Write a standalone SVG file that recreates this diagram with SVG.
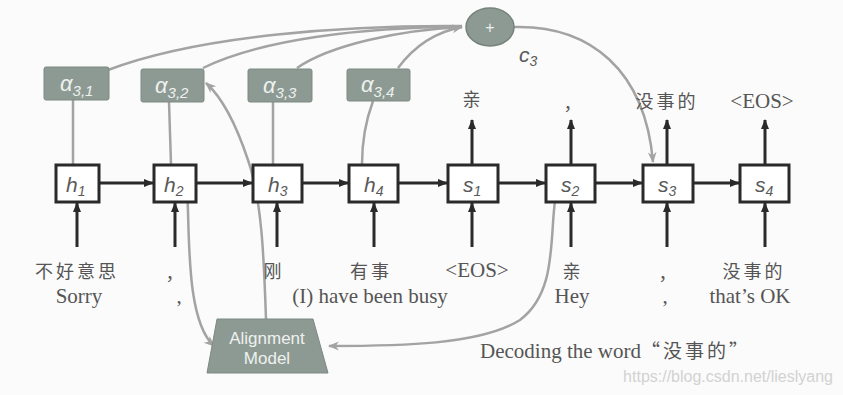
<svg xmlns="http://www.w3.org/2000/svg" width="843" height="395" viewBox="0 0 843 395">
<style>
.bx{fill:#fff;stroke:#2a2a2a;stroke-width:3}
.bl{font-family:"Liberation Sans",Arial,sans-serif;font-style:italic;font-size:21px;fill:#5a5a5a}
.al{fill:#8d9a93;stroke:#7d8a83;stroke-width:1}
.at{font-family:"Liberation Sans",Arial,sans-serif;font-style:italic;font-size:22px;fill:#eef1ef}
.k{stroke:#2a2a2a;stroke-width:3;fill:none}
.g{stroke:#a3a3a3;stroke-width:2.5;fill:none}
.cn{font-family:"Liberation Serif","Noto Sans CJK SC",serif;font-size:18px;fill:#555;letter-spacing:3px}
.en{font-family:"Liberation Serif","Noto Sans CJK SC",serif;font-size:21px;fill:#555}
.am{font-family:"Liberation Sans",Arial,sans-serif;font-size:17px;fill:#eef1ef}
</style>
<defs>
<marker id="ab" viewBox="0 0 10 10" refX="9" refY="5" markerWidth="10" markerHeight="10" orient="auto" markerUnits="userSpaceOnUse"><path d="M0,1 L10,5 L0,9 z" fill="#2a2a2a"/></marker>
<marker id="ag" viewBox="0 0 10 10" refX="9" refY="5" markerWidth="11" markerHeight="11" orient="auto" markerUnits="userSpaceOnUse"><path d="M0,1 L10,5 L0,9 L3,5 z" fill="#a3a3a3"/></marker>
</defs>
<rect width="843" height="395" fill="#fbfbfb"/>

<g id="connectors">
<line class="k" x1="99" y1="183" x2="153" y2="183" marker-end="url(#ab)"/>
<line class="k" x1="196" y1="183" x2="252" y2="183" marker-end="url(#ab)"/>
<line class="k" x1="302" y1="183" x2="348" y2="183" marker-end="url(#ab)"/>
<line class="k" x1="398" y1="183" x2="447" y2="183" marker-end="url(#ab)"/>
<line class="k" x1="498" y1="183" x2="545" y2="183" marker-end="url(#ab)"/>
<line class="k" x1="595" y1="183" x2="642" y2="183" marker-end="url(#ab)"/>
<line class="k" x1="693" y1="183" x2="739" y2="183" marker-end="url(#ab)"/>
<line class="k" x1="77" y1="247" x2="77" y2="203" marker-end="url(#ab)"/>
<line class="k" x1="175" y1="247" x2="175" y2="203" marker-end="url(#ab)"/>
<line class="k" x1="277" y1="247" x2="277" y2="203" marker-end="url(#ab)"/>
<line class="k" x1="374" y1="247" x2="374" y2="203" marker-end="url(#ab)"/>
<line class="k" x1="472" y1="247" x2="472" y2="203" marker-end="url(#ab)"/>
<line class="k" x1="571" y1="247" x2="571" y2="203" marker-end="url(#ab)"/>
<line class="k" x1="667" y1="247" x2="667" y2="203" marker-end="url(#ab)"/>
<line class="k" x1="765" y1="247" x2="765" y2="203" marker-end="url(#ab)"/>
<line class="k" x1="472" y1="164" x2="472" y2="120" marker-end="url(#ab)"/>
<line class="k" x1="571" y1="164" x2="571" y2="120" marker-end="url(#ab)"/>
<line class="k" x1="667" y1="164" x2="667" y2="120" marker-end="url(#ab)"/>
<line class="k" x1="765" y1="164" x2="765" y2="120" marker-end="url(#ab)"/>
<line class="g" x1="73" y1="100" x2="73" y2="164"/>
<line class="g" x1="169" y1="102" x2="171" y2="164"/>
<line class="g" x1="273" y1="102" x2="273" y2="164"/>
<path class="g" d="M373,101 C366,120 362,140 362,164"/>
<path class="g" d="M108,70 C200,35 350,25 462,26"/>
<path class="g" d="M203,68 C260,40 360,27 462,27"/>
<path class="g" d="M297,68 C330,45 400,30 462,27"/>
<path class="g" d="M398,68 C415,45 435,32 462,27" marker-end="url(#ag)"/>
<path class="g" d="M514,27 C590,25 645,70 653,162" marker-end="url(#ag)"/>
<path class="g" d="M187,188 C190,230 185,320 214,346" marker-end="url(#ag)"/>
<path class="g" d="M557,188 C548,230 560,290 520,320 C480,345 400,346 329,346" marker-end="url(#ag)"/>
<path class="g" d="M266,319 C264,260 262,200 248,160 C238,130 225,100 206,83" marker-end="url(#ag)"/>
</g>

<g id="h1"><rect class="bx" x="56" y="165" width="43" height="37"/><text class="bl" x="66" y="192">h<tspan font-size="14" dy="4">1</tspan></text></g>
<g id="h2"><rect class="bx" x="154" y="165" width="42" height="37"/><text class="bl" x="164" y="192">h<tspan font-size="14" dy="4">2</tspan></text></g>
<g id="h3"><rect class="bx" x="253" y="165" width="49" height="37"/><text class="bl" x="268" y="192">h<tspan font-size="14" dy="4">3</tspan></text></g>
<g id="h4"><rect class="bx" x="349" y="165" width="49" height="37"/><text class="bl" x="364" y="192">h<tspan font-size="14" dy="4">4</tspan></text></g>
<g id="s1"><rect class="bx" x="448" y="165" width="50" height="37"/><text class="bl" x="463" y="192">s<tspan font-size="14" dy="4">1</tspan></text></g>
<g id="s2"><rect class="bx" x="546" y="165" width="49" height="37"/><text class="bl" x="561" y="192">s<tspan font-size="14" dy="4">2</tspan></text></g>
<g id="s3"><rect class="bx" x="643" y="165" width="50" height="37"/><text class="bl" x="658" y="192">s<tspan font-size="14" dy="4">3</tspan></text></g>
<g id="s4"><rect class="bx" x="740" y="165" width="49" height="37"/><text class="bl" x="755" y="192">s<tspan font-size="14" dy="4">4</tspan></text></g>

<g id="a31"><rect class="al" x="44" y="67" width="65" height="33" rx="2"/><text class="at" x="60" y="91">α<tspan font-size="15" dy="5">3,1</tspan></text></g>
<g id="a32"><rect class="al" x="141" y="69" width="63" height="33" rx="2"/><text class="at" x="155" y="93">α<tspan font-size="15" dy="5">3,2</tspan></text></g>
<g id="a33"><rect class="al" x="248" y="69" width="64" height="33" rx="2"/><text class="at" x="263" y="93">α<tspan font-size="15" dy="5">3,3</tspan></text></g>
<g id="a34"><rect class="al" x="347" y="69" width="63" height="32" rx="2"/><text class="at" x="361" y="92">α<tspan font-size="15" dy="5">3,4</tspan></text></g>

<g id="sum"><ellipse cx="490" cy="27" rx="24" ry="19" fill="#8d9a93" stroke="#75837b" stroke-width="1.5"/><text x="490" y="33" text-anchor="middle" font-family="Liberation Sans,Arial,sans-serif" font-size="16" fill="#eef1ef">+</text></g>
<text class="bl" x="519" y="62" font-size="19" fill="#444">c<tspan font-size="14" dy="4">3</tspan></text>

<g id="align"><path d="M217,319 L313,319 L328,373 L207,373 z" fill="#8d9a93" stroke="#7d8a83" stroke-width="1"/>
<text class="am" x="267" y="344" text-anchor="middle">Alignment</text>
<text class="am" x="267" y="364" text-anchor="middle">Model</text></g>

<g id="labels">
<text class="cn" x="473" y="106" text-anchor="middle">亲</text>
<text class="cn" x="574" y="110" text-anchor="middle">，</text>
<text class="cn" x="667" y="108" text-anchor="middle">没事的</text>
<text class="en" x="762" y="108" text-anchor="middle">&lt;EOS&gt;</text>

<text class="cn" x="77" y="278" text-anchor="middle">不好意思</text>
<text class="cn" x="176" y="280" text-anchor="middle">，</text>
<text class="cn" x="274" y="278" text-anchor="middle">刚</text>
<text class="cn" x="371" y="278" text-anchor="middle">有事</text>
<text class="en" x="477" y="277" text-anchor="middle">&lt;EOS&gt;</text>
<text class="cn" x="573" y="278" text-anchor="middle">亲</text>
<text class="cn" x="669" y="280" text-anchor="middle">，</text>
<text class="cn" x="754" y="278" text-anchor="middle">没事的</text>

<text class="en" x="79" y="303" text-anchor="middle">Sorry</text>
<text class="en" x="179" y="303" text-anchor="middle">,</text>
<text class="en" x="370" y="303" text-anchor="middle">(I) have been busy</text>
<text class="en" x="572" y="303" text-anchor="middle">Hey</text>
<text class="en" x="665" y="303" text-anchor="middle">,</text>
<text class="en" x="750" y="303" text-anchor="middle">that’s OK</text>

<text class="en" x="480" y="358">Decoding the word<tspan font-family="Noto Sans CJK SC,sans-serif" font-size="19" letter-spacing="3">“没事的”</tspan></text>
<text x="833" y="382" text-anchor="end" font-family="Liberation Sans,Arial,sans-serif" font-size="16" fill="#d2d2d2">https://blog.csdn.net/lieslyang</text>
</g>
</svg>
